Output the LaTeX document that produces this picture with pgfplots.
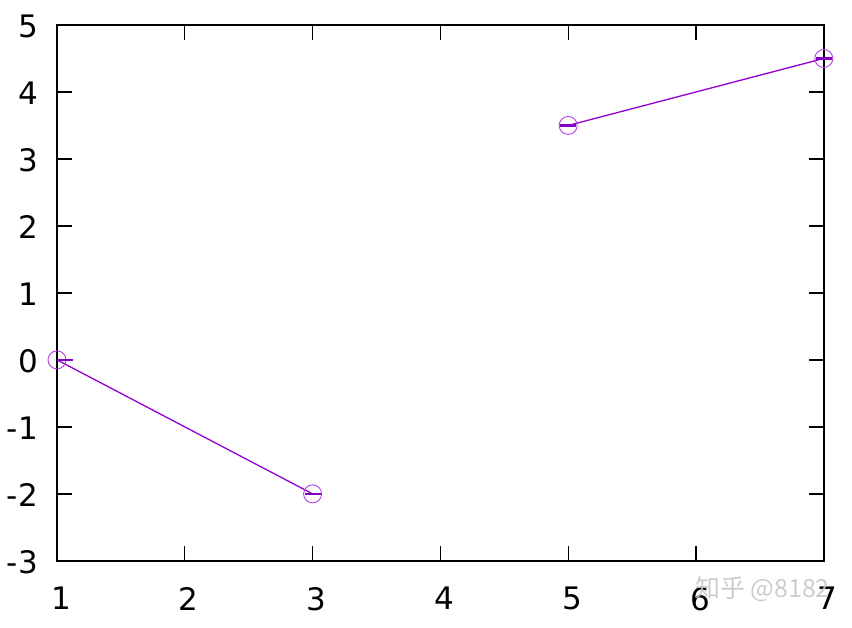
\documentclass[border=0pt]{standalone}
\usepackage{pgfplots}
\pgfplotsset{compat=1.18}
\usepackage{fontspec}
\setmainfont{DejaVu Sans}
\newfontfamily\cjk{Noto Sans CJK SC}
\definecolor{gpviolet}{HTML}{9400D3}
\begin{document}
\begin{tikzpicture}
\begin{axis}[
  scale only axis,
  width=767pt, height=536pt,
  xmin=1, xmax=7, ymin=-3, ymax=5,
  xtick={1,2,3,4,5,6,7},
  ytick={-3,-2,-1,0,1,2,3,4,5},
  xticklabels={1,2,3,4,5,6,7},
  yticklabels={-3,-2,-1,0,1,2,3,4,5},
  tick align=inside,
  major tick length=15pt,
  every tick/.style={black, line width=1.3pt},
  axis line style={black, line width=1.5pt},
  tick label style={font=\fontsize{31}{36}\selectfont, text=black, inner sep=0pt},
  xticklabel style={anchor=north, yshift=-26pt, xshift=4pt},
  yticklabel style={anchor=east, xshift=-19pt, yshift=-1.5pt},
  clip=false,
  unbounded coords=jump,
]
\addplot[gpviolet, line width=1.3pt, mark=o, mark size=9pt,
  mark options={line width=0.9pt, gpviolet!75}]
  coordinates {(1,0) (3,-2) (4,nan) (5,3.5) (7,4.5)};
\addplot[only marks, mark=-, mark size=8pt, mark options={line width=2.6pt, gpviolet!90!black}]
  coordinates {(1.06,0) (3,-2) (5,3.5) (7,4.5)};
\node[text=black!22, font=\cjk\fontsize{25}{30}\selectfont, opacity=0.9] at (axis cs:6.52,-3.43) {知乎 @8182};
\coordinate (bl) at (axis cs:0.5540,-4.0);
\coordinate (tr) at (axis cs:7.2207,5.373);
\end{axis}
\pgfresetboundingbox
\path[use as bounding box] (bl) rectangle (tr);
\end{tikzpicture}
\end{document}
